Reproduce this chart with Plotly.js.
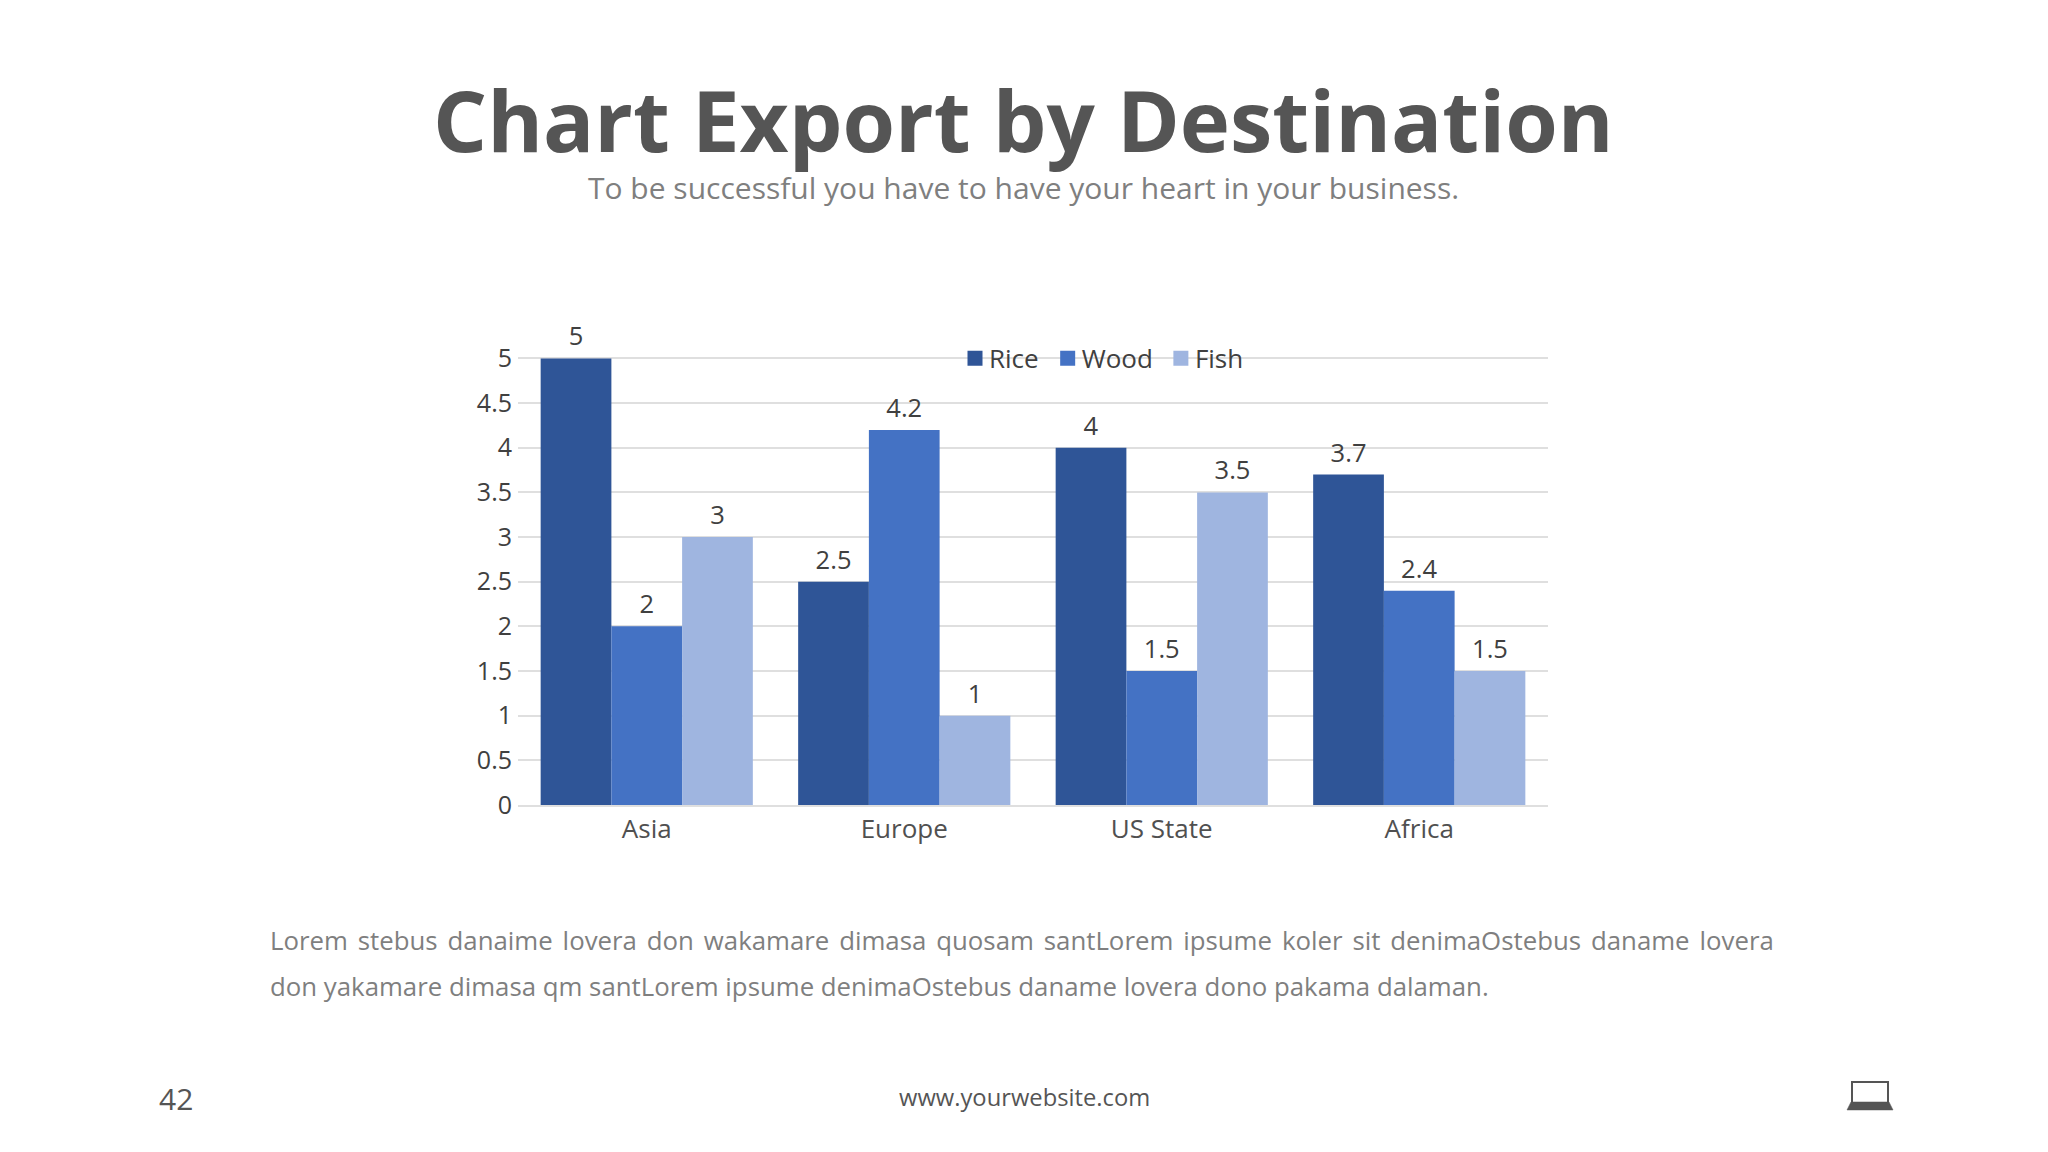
<!DOCTYPE html>
<html>
<head>
<meta charset="utf-8">
<script src="https://cdn.plot.ly/plotly-3.0.1.min.js"></script>
<style>
html,body{margin:0;padding:0;background:#fff}
#chart{width:2048px;height:1152px}
.legendpoints path{transform:translate(20px,0) scale(1.25)!important}
.legend .legendtext{transform:translateX(-6px)}
.annotation[data-index="3"] text{word-spacing:3.2px}
</style>
</head>
<body>
<div id="chart"></div>
<script>
const categories = ["Asia", "Europe", "US State", "Africa"];
const rice = [5, 2.5, 4, 3.7];
const wood = [2, 4.2, 1.5, 2.4];
const fish = [3, 1, 3.5, 1.5];
const seriesNames = ["Rice", "Wood", "Fish"];
const seriesColors = ["#2F5597", "#4472C4", "#9FB5E0"];
const titleText = "Chart Export by Destination";
const subtitleText = "To be successful you have to have your heart in your business.";
const bodyLine1 = "Lorem stebus danaime lovera don wakamare dimasa quosam santLorem ipsume koler sit denimaOstebus daname lovera";
const bodyLine2 = "don yakamare dimasa qm santLorem ipsume denimaOstebus daname lovera dono pakama dalaman.";
const pageNumber = "42";
const website = "www.yourwebsite.com";

const W = 2048, H = 1152;
const plot = {l: 518, r: 1548, t: 356.7, b: 805.5};
const FONT = '"Open Sans", sans-serif';
const px = x => (x - plot.l) / (plot.r - plot.l);
const py = y => (plot.b - y) / (plot.b - plot.t);

const traces = [rice, wood, fish].map((vals, i) => ({
  type: "bar",
  name: seriesNames[i],
  x: categories,
  y: vals,
  text: vals.map(String),
  textposition: "outside",
  cliponaxis: false,
  textfont: {family: FONT, size: 25.5, color: "#404040"},
  marker: {color: seriesColors[i], line: {width: 0}},
  hoverinfo: "x+y+name"
}));

function note(text, x, y, size, color, anchor, weight) {
  return {
    text: text, xref: "paper", yref: "paper", x: px(x), y: py(y),
    xanchor: anchor, yanchor: "middle", align: anchor === "center" ? "center" : "left",
    showarrow: false, borderpad: 0,
    font: {family: FONT, size: size, color: color, weight: weight || 400}
  };
}

const sh = (path, fill, lineColor, lineWidth) => ({
  type: "path", xref: "paper", yref: "paper", path: path,
  fillcolor: fill, line: {color: lineColor, width: lineWidth}
});
const P = (x, y) => px(x) + "," + py(y);

const layout = {
  width: W, height: H,
  paper_bgcolor: "#ffffff", plot_bgcolor: "rgba(0,0,0,0)",
  margin: {l: plot.l, r: W - plot.r, t: plot.t, b: H - plot.b, pad: 0},
  barmode: "group", bargap: 0.176, bargroupgap: 0,
  font: {family: FONT, color: "#404040"},
  showlegend: true,
  legend: {
    orientation: "h", x: px(955), y: py(358), xanchor: "left", yanchor: "middle",
    bgcolor: "rgba(0,0,0,0)", font: {family: FONT, size: 26, color: "#404040"},
    traceorder: "normal"
  },
  xaxis: {
    type: "category", showgrid: false, zeroline: false,
    showline: true, linecolor: "#DFDFDF", linewidth: 2,
    ticks: "", tickfont: {family: FONT, size: 26, color: "#505050"}, ticklabelstandoff: 0
  },
  yaxis: {
    range: [0, 5.016], dtick: 0.5, tick0: 0, showgrid: true, gridcolor: "#DFDFDF", gridwidth: 2,
    zeroline: false, showline: false, ticks: "",
    tickfont: {family: FONT, size: 25, color: "#404040"}, ticklabelstandoff: 5
  },
  annotations: [
    note(titleText, 1023, 118.7, 85, "#555555", "center", 700),
    note(subtitleText, 1023, 187, 30, "#7F7F7F", "center"),
    note(pageNumber, 158, 1100, 30, "#555555", "left"),
    note(bodyLine1, 269, 941, 25.8, "#7F7F7F", "left"),
    note(bodyLine2, 269, 986.5, 25.8, "#7F7F7F", "left"),
    note(website, 1024, 1098, 23.75, "#555555", "center")
  ],
  shapes: [
    sh("M" + P(1852, 1083) + "L" + P(1888, 1083) + "L" + P(1888, 1104) + "L" + P(1852, 1104) + "Z", "rgba(0,0,0,0)", "#555555", 2),
    sh("M" + P(1851, 1103) + "L" + P(1889, 1103) + "L" + P(1893, 1111) + "L" + P(1847, 1111) + "Z", "#555555", "#555555", 0.5)
  ]
};

const nudge = (el, dx, dy) => el.setAttribute("transform", "translate(" + dx + "," + dy + ") " + (el.getAttribute("transform") || ""));

Plotly.newPlot("chart", traces, layout, {staticPlot: true, displayModeBar: false}).then(() => {
  document.querySelectorAll("#chart .barlayer text").forEach(t => nudge(t, 0, -3));
  document.querySelectorAll("#chart .legend .traces").forEach((g, i) => nudge(g, [0, -2, -5][i], 0));
});
</script>
</body>
</html>
